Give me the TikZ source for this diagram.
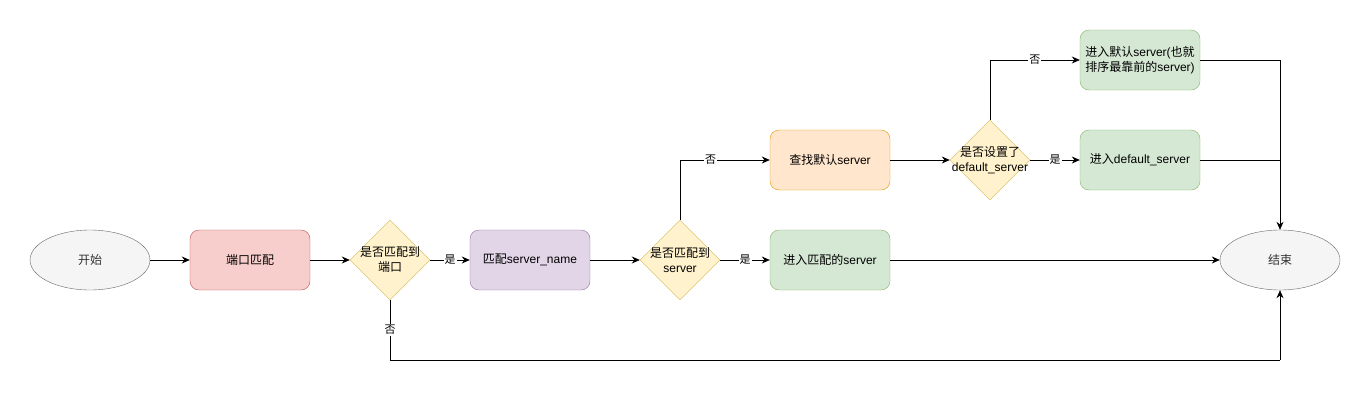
\documentclass[tikz,border=0pt]{standalone}
\usepackage{fontspec}
\setmainfont{Liberation Sans}
\newfontfamily\cjk{Noto Sans CJK SC}
\usepackage{tikz}
\usetikzlibrary{shapes.geometric,arrows.meta}
\definecolor{grayfill}{HTML}{F5F5F5}
\definecolor{graydraw}{HTML}{666666}
\definecolor{redfill}{HTML}{F8CECC}
\definecolor{reddraw}{HTML}{B85450}
\definecolor{purplefill}{HTML}{E1D5E7}
\definecolor{purpledraw}{HTML}{9673A6}
\definecolor{yellowfill}{HTML}{FFF2CC}
\definecolor{yellowdraw}{HTML}{D6B656}
\definecolor{greenfill}{HTML}{D5E8D4}
\definecolor{greendraw}{HTML}{82B366}
\definecolor{orangefill}{HTML}{FFE6CC}
\definecolor{orangedraw}{HTML}{D79B00}
\tikzset{
  terminal/.style={draw=graydraw,fill=grayfill,ellipse,minimum width=120pt,minimum height=60pt,inner sep=0pt,text=black!80},
  stepbox/.style={draw,rounded corners=9pt,minimum width=120pt,minimum height=60pt,inner sep=0pt,align=center},
  decision/.style={draw=yellowdraw,fill=yellowfill,diamond,aspect=1,minimum width=80pt,minimum height=80pt,inner sep=0pt},
  flow/.style={->,line width=0.8pt},
  tag/.style={fill=white,inner sep=1pt,font=\fontsize{11pt}{12pt}\selectfont}
}

\begin{document}
\begin{tikzpicture}[x=1pt,y=-1pt,>={Stealth[length=8pt,width=7pt]},font=\fontsize{12pt}{15pt}\selectfont]
        \useasboundingbox (0,0) rectangle (1371,400);
        % main row
        \node[terminal] (start) at (90,260) {\cjk 开始};
        \node[stepbox,draw=reddraw,fill=redfill] (port) at (250,260) {\cjk 端口匹配};
        \node[decision,label={[align=center]center:{\cjk 是否匹配到}\\{\cjk 端口}}] (d-port) at (390,260) {};
        \node[stepbox,draw=purpledraw,fill=purplefill] (name) at (530,260) {{\cjk 匹配}server\_name};
        \node[decision,label={[align=center]center:{\cjk 是否匹配到}\\server}] (d-name) at (680,260) {};
        \node[stepbox,draw=greendraw,fill=greenfill] (hit) at (830,260) {{\cjk 进入匹配的}server};
        \node[terminal] (end) at (1280,260) {\cjk 结束};
        % default server branch
        \node[stepbox,draw=orangedraw,fill=orangefill] (find) at (830,160) {{\cjk 查找默认}server};
        \node[decision,label={[align=center]center:{\cjk 是否设置了}\\default\_server}] (d-default) at (990,160) {};
        \node[stepbox,draw=greendraw,fill=greenfill] (default) at (1140,160) {{\cjk 进入}default\_server};
        \node[stepbox,draw=greendraw,fill=greenfill] (first) at (1140,60) {{\cjk 进入默认}server({\cjk 也就}\\{\cjk 排序最靠前的}server)};
        \coordinate (bottom) at (1280,360);

        \draw[flow] (start) -- (port);
        \draw[flow] (port) -- (d-port);
        \draw[flow] (d-port) -- node[tag] {\cjk 是} (name);
        \draw[line width=0.8pt] (d-port.south) |- node[tag,pos=0.25] {\cjk 否} (bottom);
        \draw[flow] (bottom) -- (end.south);
        \draw[flow] (name) -- (d-name);
        \draw[flow] (d-name) -- node[tag] {\cjk 是} (hit);
        \draw[flow] (d-name.north) |- node[tag,pos=0.67] {\cjk 否} (find);
        \draw[flow] (hit) -- (end);
        \draw[flow] (find) -- (d-default);
        \draw[flow] (d-default) -- node[tag] {\cjk 是} (default);
        \draw[flow] (d-default.north) |- node[tag,pos=0.75] {\cjk 否} (first);
        \draw[flow] (first.east) -| (end.north);
        \draw[line width=0.8pt] (default.east) -- (end.north |- default.east);
      \end{tikzpicture}
\end{document}
